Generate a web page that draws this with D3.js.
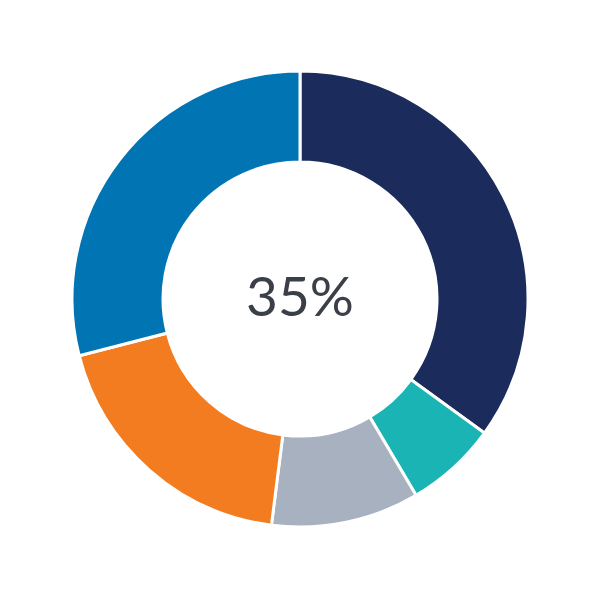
<!DOCTYPE html>
<html>
<head>
<meta charset="utf-8">
<script src="https://cdn.jsdelivr.net/npm/d3@7"></script>
<style>
  body { margin: 0; background: #fff; }
</style>
</head>
<body>
<div id="chart"></div>
<script>
const categories = ['A', 'B', 'C', 'D', 'E']
const values = [35, 6.5, 10.5, 19, 29]
const colors = ['#1b2b5b', '#1ab4b4', '#a7b1bf', '#f47c20', '#0174b4']
const centerLabel = '35%'

const w = 600
const h = 600
const cx = 300
const cy = 299

const svg = d3.select('#chart')
              .append('svg')
              .attr('width', w)
              .attr('height', h)

const pie = d3.pie()
              .sort(null)
              .value(d => d.value)

const arc = d3.arc()
              .innerRadius(137)
              .outerRadius(228)

const color = d3.scaleOrdinal()
                .domain(categories)
                .range(colors)

const data = categories.map((c, i) => ({ name: c, value: values[i] }))

const g = svg.append('g')
             .attr('transform', 'translate(' + cx + ',' + cy + ')')

g.selectAll('path')
 .data(pie(data))
 .enter()
 .append('path')
 .attr('d', arc)
 .attr('fill', d => color(d.data.name))
 .attr('stroke', '#fff')
 .attr('stroke-width', 3)

g.append('text')
 .attr('text-anchor', 'middle')
 .attr('y', 17)
 .style('font-family', 'Lato, sans-serif')
 .style('font-size', '55px')
 .style('fill', '#3b4048')
 .text(centerLabel)
</script>
</body>
</html>
